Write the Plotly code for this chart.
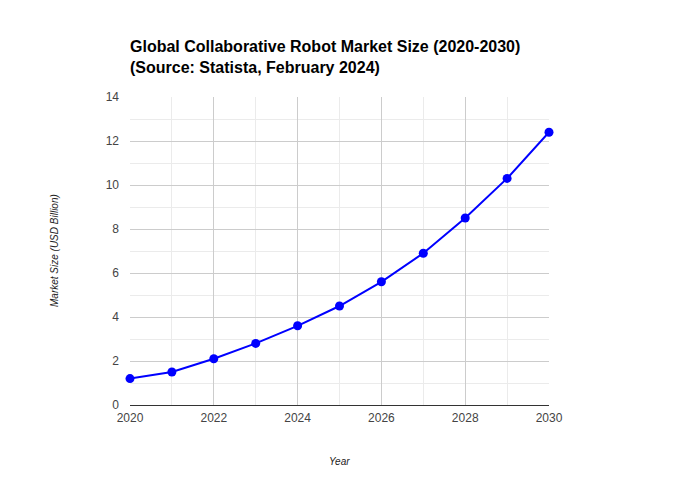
import plotly.graph_objects as go

years = [2020, 2021, 2022, 2023, 2024, 2025, 2026, 2027, 2028, 2029, 2030]
market_size = [1.2, 1.5, 2.1, 2.8, 3.6, 4.5, 5.6, 6.9, 8.5, 10.3, 12.4]
x_ticks = [2020, 2022, 2024, 2026, 2028, 2030]
y_ticks = [0, 2, 4, 6, 8, 10, 12, 14]

# page body has an 8px margin, so figure is drawn 8px inset
W, H = 672, 492
L, R, T, B = 122, 131, 89, 95
PW, PH = W - L - R, H - T - B

fig = go.Figure()
fig.add_trace(go.Scatter(
    x=years, y=market_size, mode="lines+markers",
    line=dict(color="#0000ff", width=2),
    marker=dict(color="#0000ff", size=9),
    cliponaxis=False,
    showlegend=False,
))

fig.update_layout(
    width=W, height=H,
    margin=dict(l=L, r=R, t=T, b=B, pad=0),
    paper_bgcolor="white", plot_bgcolor="white",
    font=dict(family="Arial, Liberation Sans, sans-serif", color="#444"),
    title=dict(
        text="<b>Global Collaborative Robot Market Size (2020-2030)<br>(Source: Statista, February 2024)</b>",
        x=L / W, xanchor="left", xref="container",
        y=1 - 44 / H, yanchor="top", yref="container",
        font=dict(size=16, color="#000"),
    ),
    xaxis=dict(
        range=[2020, 2030], tickvals=x_ticks, ticktext=[str(v) for v in x_ticks],
        showgrid=True, gridcolor="#cccccc", gridwidth=1,
        minor=dict(dtick=1, tick0=2020, showgrid=True, gridcolor="#ebebeb", gridwidth=1),
        showline=True, linecolor="#333333", linewidth=1,
        zeroline=False, ticks="", ticklabelstandoff=2,
        tickfont=dict(size=12, color="#444"),
        fixedrange=True,
    ),
    yaxis=dict(
        range=[0, 14], tickvals=y_ticks,
        showgrid=True, gridcolor="#cccccc", gridwidth=1,
        minor=dict(dtick=1, tick0=0, showgrid=True, gridcolor="#ebebeb", gridwidth=1),
        zeroline=False, ticks="", ticklabelstandoff=10,
        tickfont=dict(size=12, color="#444"),
        fixedrange=True,
    ),
    annotations=[
        dict(text="<i>Year</i>", xref="paper", yref="paper",
             x=0.5, y=-(461 - 405) / PH, xanchor="center", yanchor="middle",
             showarrow=False, font=dict(size=10, color="#222")),
        dict(text="<i>Market Size (USD Billion)</i>", xref="paper", yref="paper",
             x=-(130 - 54) / PW, y=0.5, xanchor="center", yanchor="middle",
             textangle=-90, showarrow=False, font=dict(size=10, color="#222")),
    ],
)

fig.write_html("out.html")
